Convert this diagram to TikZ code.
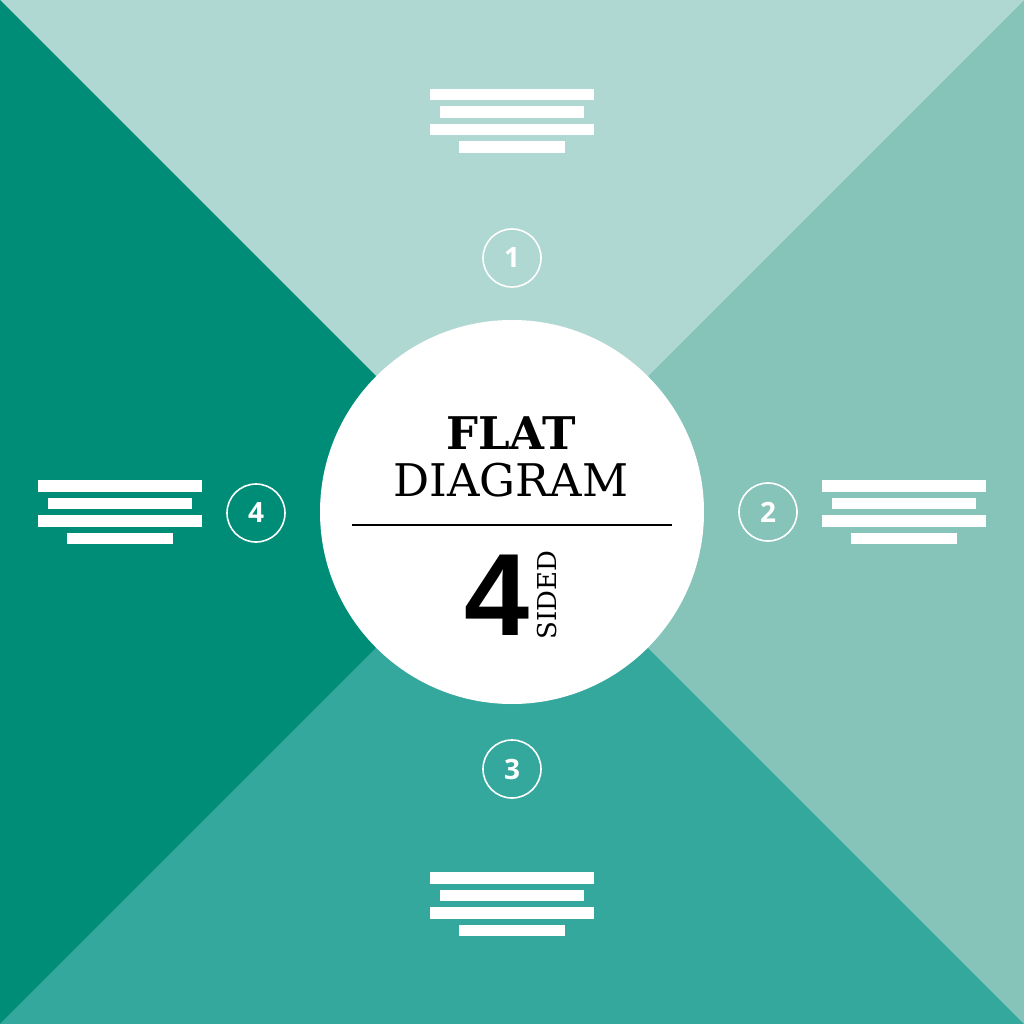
\documentclass[tikz,border=0pt]{standalone}
\usepackage{fontspec}
\setmainfont{DejaVu Serif}
\newfontfamily\numfont{Open Sans}
\newfontfamily\bigfont{Liberation Sans}
\definecolor{topside}{RGB}{176,216,210}
\definecolor{rightside}{RGB}{134,196,186}
\definecolor{bottomside}{RGB}{52,168,157}
\definecolor{leftside}{RGB}{0,141,120}

\begin{document}
\begin{tikzpicture}[x=1pt,y=-1pt]
	\tikzset{side number/.style={circle,draw=white,line width=1.6pt,minimum size=58pt,inner sep=0pt,text=white,font=\numfont\bfseries\fontsize{28}{28}\selectfont}}
	\tikzset{text bar/.style={fill=white}}
	\tikzset{title/.style={inner sep=0pt,text=black}}

	\useasboundingbox (0,0) rectangle (1024,1024);
	\fill[topside] (0,0) -- (1024,0) -- (512,512) -- cycle;
	\fill[rightside] (1024,0) -- (1024,1024) -- (512,512) -- cycle;
	\fill[bottomside] (0,1024) -- (1024,1024) -- (512,512) -- cycle;
	\fill[leftside] (0,0) -- (0,1024) -- (512,512) -- cycle;

	% placeholder text lines
	\foreach \bx/\by in {512/89,904/480,512/872,120/480}{
	    \foreach \w [count=\i from 0] in {164,144,164,106}
	        \fill[text bar] (\bx-\w/2,\by+17.5*\i) rectangle ++(\w,11.5);
	}

	\node[side number] (n1) at (512,258) {1};
	\node[side number] (n2) at (768,512) {2};
	\node[side number] (n3) at (512,769) {3};
	\node[side number] (n4) at (256,513) {4};

	\node[circle,fill=white,minimum size=384pt,inner sep=0pt] (hub) at (512,512) {};
	\node[title,font=\bfseries\fontsize{45}{45}\selectfont] (flat) at (511,433) {FLAT};
	\node[title,font=\fontsize{45}{45}\selectfont] (diagram) at (511,480) {DIAGRAM};
	\coordinate (rule west) at (352,525);
	\coordinate (rule east) at (672,525);
	\draw[line width=2pt] (rule west) -- (rule east);
	\node[title,font=\bigfont\bfseries\fontsize{117}{117}\selectfont] (four) at (497,595) {4};
	\node[title,rotate=90,font=\fontsize{26}{26}\selectfont] (sided) at (547,595) {SIDED};
\end{tikzpicture}
\end{document}
